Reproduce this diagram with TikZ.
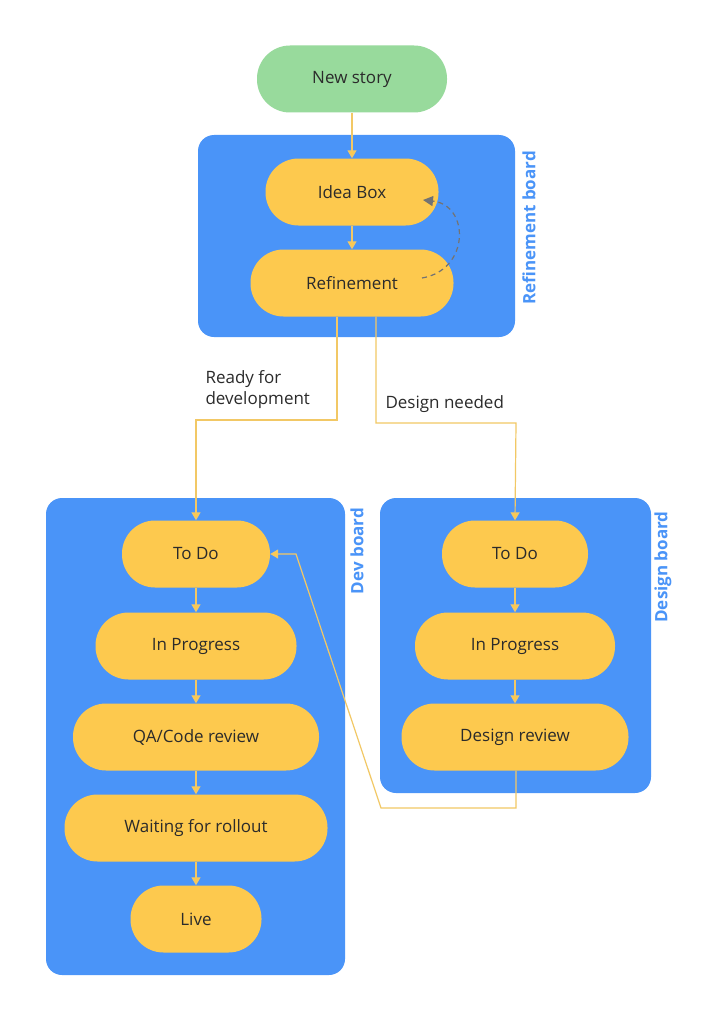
\documentclass[tikz,border=0pt]{standalone}
\usepackage{fontspec}
\setmainfont{Open Sans}
\usetikzlibrary{arrows.meta}
\definecolor{bblue}{HTML}{4A94F8}
\definecolor{pyel}{HTML}{FDC94E}
\definecolor{lyel}{HTML}{F2C865}
\definecolor{pgreen}{HTML}{98DA9C}
\definecolor{txt}{HTML}{2B2B2B}
\begin{document}
\begin{tikzpicture}[x=1pt,y=-1pt,
  board/.style={fill=bblue,draw=none,rounded corners=16pt},
  pill/.style={fill=pyel,draw=none,rounded corners=33pt,minimum height=67pt,font=\fontsize{17}{20}\selectfont,text=txt,inner sep=0pt},
  blabel/.style={rotate=90,font=\bfseries\fontsize{17}{20}\selectfont,text=bblue},
  conn/.style={draw=lyel,line width=1.2pt,-{Triangle[length=8pt,width=9pt,fill=pyel]}},
  lbl/.style={font=\fontsize{17}{21}\selectfont,text=txt,align=left}]
\useasboundingbox (0,0) rectangle (720,1022);
\fill[white] (0,0) rectangle (720,1022);
% boards
\fill[board] (198,135) rectangle (515,337);
\fill[board] (46,498) rectangle (345,975);
\fill[board] (380,498) rectangle (651,793);
\node[blabel] (lr) at (529,228) {Refinement board};
\node[blabel] (ld) at (357,551) {Dev board};
\node[blabel] (lg) at (663,567) {Design board};
% nodes
\node[pill,fill=pgreen,minimum width=190pt] (ns) at (352,79) {New story};
\node[pill,minimum width=173pt] (ib) at (352,192) {Idea Box};
\node[pill,minimum width=203pt] (rf) at (352,283) {Refinement};
\node[pill,minimum width=148pt] (dt) at (196,554) {To Do};
\node[pill,minimum width=201pt] (dp) at (196,646) {In Progress};
\node[pill,minimum width=246pt] (dq) at (196,737) {QA/Code review};
\node[pill,minimum width=263pt] (dw) at (196,828) {Waiting for rollout};
\node[pill,minimum width=131pt] (dl) at (196,919) {Live};
\node[pill,minimum width=146pt] (gt) at (515,554) {To Do};
\node[pill,minimum width=200pt] (gp) at (515,646) {In Progress};
\node[pill,minimum width=227pt] (gr) at (515,737) {Design review};
% connectors
\draw[conn] (ns) -- (ib);
\draw[conn] (ib) -- (rf);
\draw[conn] (dt) -- (dp);
\draw[conn] (dp) -- (dq);
\draw[conn] (dq) -- (dw);
\draw[conn] (dw) -- (dl);
\draw[conn] (gt) -- (gp);
\draw[conn] (gp) -- (gr);
\draw[conn] (rf.south -| 337,0) -- (337,420) -- (196,420) -- (dt.north);
\draw[conn] (rf.south -| 376,0) -- (376,423) -- (516,423) -- (gt.north);
\coordinate (c1) at (516,808);
\coordinate (c2) at (381,808);
\coordinate (c3) at (296,554);
\draw[conn] (gr.south -| c1) -- (c1) -- (c2) -- (c3) -- (dt.east);
% dashed loop
\draw[draw=gray!90!black,line width=1.2pt,dash pattern=on 5pt off 4pt,-{Triangle[length=10pt,width=10pt]}]
  (422,278) .. controls (470,270) and (470,205) .. (423,200);
% labels
\node[lbl,anchor=west] (t1) at (202,390) {Ready for\\development};
\node[lbl,anchor=west] (t2) at (382,404) {Design needed};
\end{tikzpicture}
\end{document}
